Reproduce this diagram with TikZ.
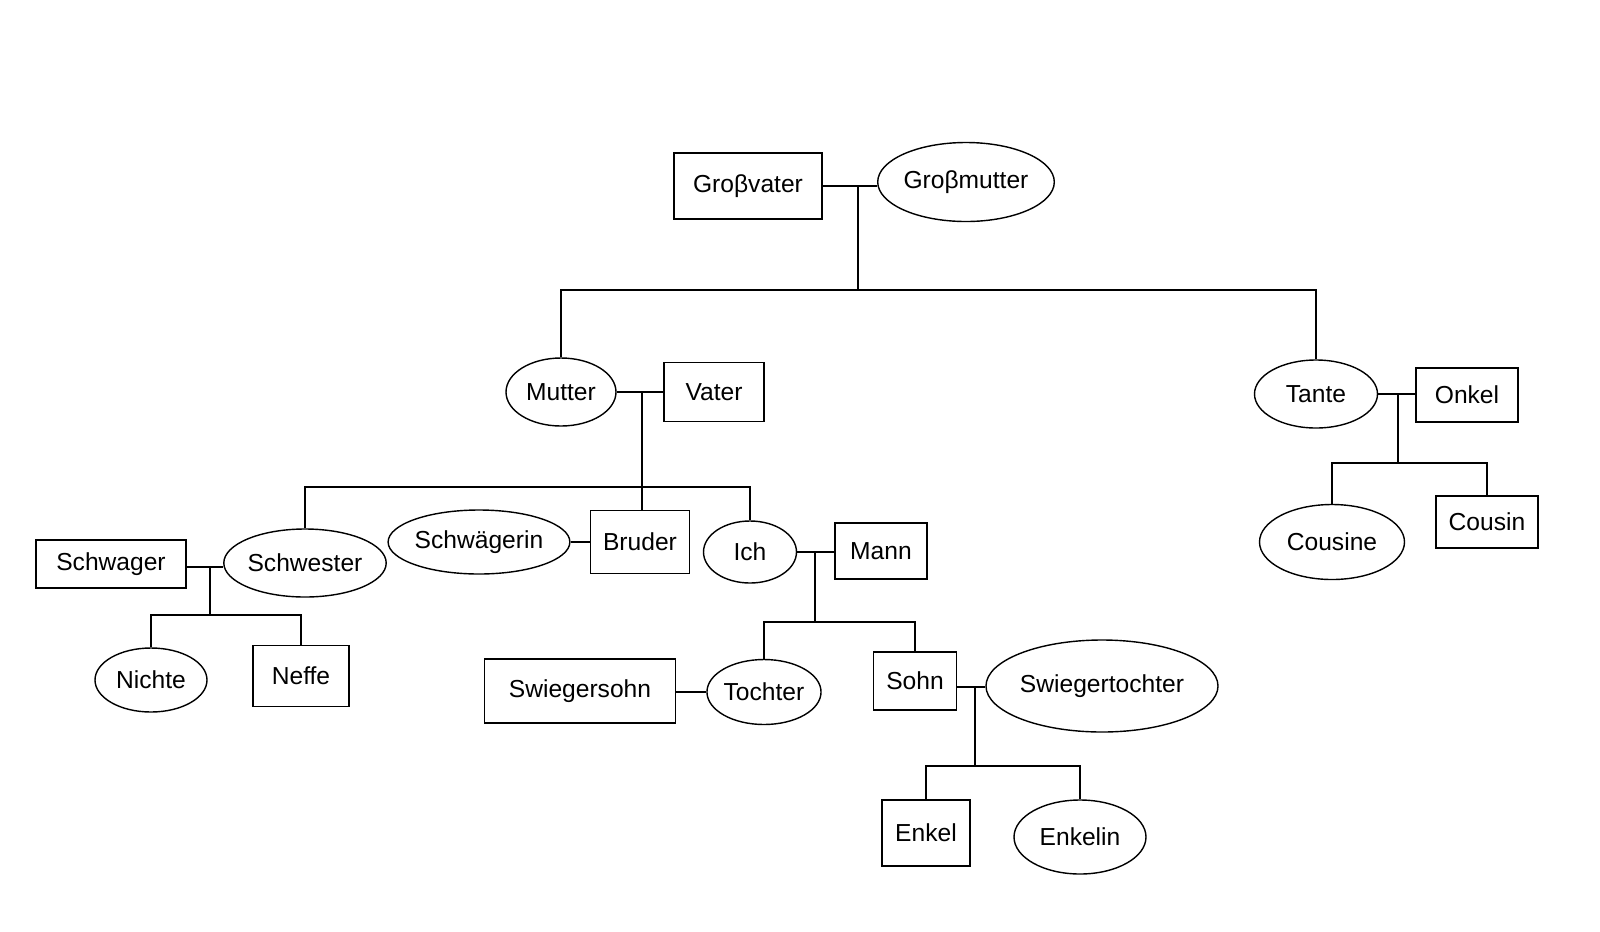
\documentclass[tikz,border=0pt]{standalone}
\usepackage{fontspec}
\setmainfont{Liberation Sans}
\usetikzlibrary{shapes.geometric}
\begin{document}
\begin{tikzpicture}[x=0.02cm,y=-0.02cm,
  every node/.style={font=\fontsize{14}{16}\selectfont, inner sep=0pt},
  r/.style={draw, thick, rectangle},
  e/.style={draw, thick, ellipse},
  l/.style={thick}]
\useasboundingbox (0,0) rectangle (1600,931);
\node[r,minimum width=148*0.02cm,minimum height=66*0.02cm] (gv) at (748,186) {Groβvater};
\node[e,minimum width=160*0.02cm,minimum height=79*0.02cm] (gm) at (966,182) {Groβmutter};
\node[e,minimum width=110*0.02cm,minimum height=68*0.02cm] (mu) at (561,392) {Mutter};
\node[r,minimum width=100*0.02cm,minimum height=59*0.02cm] (va) at (714,392) {Vater};
\node[e,minimum width=123*0.02cm,minimum height=68*0.02cm] (ta) at (1316,394) {Tante};
\node[r,minimum width=102*0.02cm,minimum height=54*0.02cm] (on) at (1467,395) {Onkel};
\node[e,minimum width=145*0.02cm,minimum height=75*0.02cm] (ce) at (1332,542) {Cousine};
\node[r,minimum width=102*0.02cm,minimum height=52*0.02cm] (cn) at (1487,522) {Cousin};
\node[r,minimum width=150*0.02cm,minimum height=48*0.02cm] (sg) at (111,564) {Schwager};
\node[e,minimum width=154*0.02cm,minimum height=68*0.02cm] (sw) at (305,563) {Schwester};
\node[e,minimum width=112*0.02cm,minimum height=64*0.02cm] (ni) at (151,680) {Nichte};
\node[r,minimum width=96*0.02cm,minimum height=61*0.02cm] (ne) at (301,676) {Neffe};
\node[e,minimum width=178*0.02cm,minimum height=64*0.02cm] (sn) at (479,542) {Schwägerin};
\node[r,minimum width=99*0.02cm,minimum height=63*0.02cm] (br) at (640,542) {Bruder};
\node[e,minimum width=93*0.02cm,minimum height=62*0.02cm] (ich) at (750,552) {Ich};
\node[r,minimum width=92*0.02cm,minimum height=56*0.02cm] (ma) at (881,551) {Mann};
\node[r,minimum width=191*0.02cm,minimum height=64*0.02cm] (ss) at (580,691) {Swiegersohn};
\node[e,minimum width=111*0.02cm,minimum height=65*0.02cm] (to) at (764,692) {Tochter};
\node[r,minimum width=83*0.02cm,minimum height=58*0.02cm] (so) at (915,681) {Sohn};
\node[e,minimum width=221*0.02cm,minimum height=92*0.02cm] (st) at (1102,686) {Swiegertochter};
\node[r,minimum width=88*0.02cm,minimum height=66*0.02cm] (en) at (926,833) {Enkel};
\node[e,minimum width=132*0.02cm,minimum height=74*0.02cm] (ei) at (1080,837) {Enkelin};
% junction coordinates
\coordinate (j1) at (858,186); \coordinate (j1b) at (858,290);
\coordinate (j2) at (642,392); \coordinate (j2b) at (642,487);
\coordinate (j3) at (1398,394); \coordinate (j3b) at (1398,463);
\coordinate (j4) at (210,567); \coordinate (j4b) at (210,615);
\coordinate (j5) at (815,552); \coordinate (j5b) at (815,622);
\coordinate (j6) at (975,687); \coordinate (j6b) at (975,766);
% connectors
\draw[l] (gv.east |- j1) -- (gm.west |- j1);
\draw[l] (j1) -- (j1b);
\draw[l] (mu.north) -- (mu.north |- j1b) -- (ta.north |- j1b) -- (ta.north);
\draw[l] (mu.east) -- (va.west |- mu.east);
\draw[l] (j2) -- (j2b);
\draw[l] (sw.north) -- (sw.north |- j2b) -- (ich.north |- j2b) -- (ich.north);
\draw[l] (j2b) -- (j2b |- br.north);
\draw[l] (ta.east) -- (on.west |- ta.east);
\draw[l] (j3) -- (j3b);
\draw[l] (ce.north) -- (ce.north |- j3b) -- (cn.north |- j3b) -- (cn.north);
\draw[l] (sg.east |- j4) -- (sw.west |- j4);
\draw[l] (j4) -- (j4b);
\draw[l] (ni.north) -- (ni.north |- j4b) -- (ne.north |- j4b) -- (ne.north);
\draw[l] (sn.east) -- (br.west);
\draw[l] (ich.east) -- (ma.west |- ich.east);
\draw[l] (j5) -- (j5b);
\draw[l] (to.north) -- (to.north |- j5b) -- (so.north |- j5b) -- (so.north);
\draw[l] (ss.east |- to.west) -- (to.west);
\draw[l] (so.east |- j6) -- (st.west |- j6);
\draw[l] (j6) -- (j6b);
\draw[l] (en.north) -- (en.north |- j6b) -- (ei.north |- j6b) -- (ei.north);
\end{tikzpicture}
\end{document}
